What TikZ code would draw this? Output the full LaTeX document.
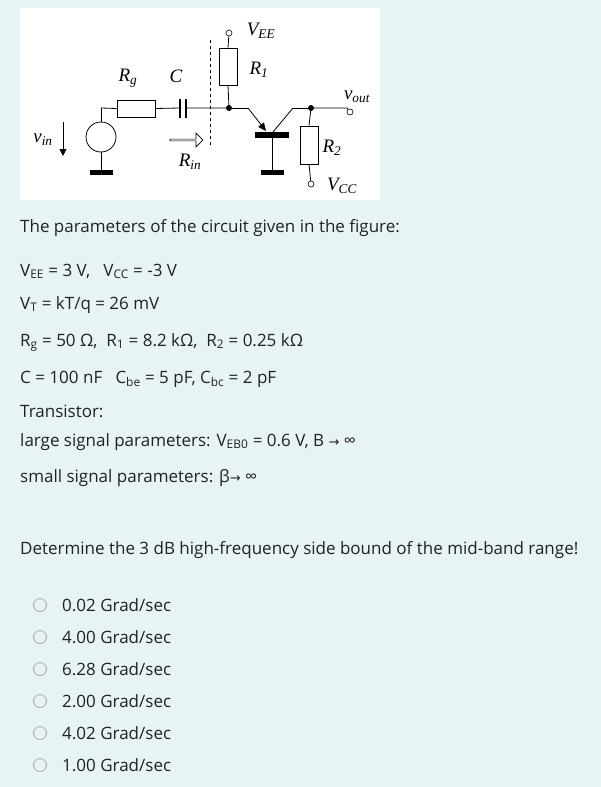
\documentclass[tikz,border=0pt]{standalone}
\usepackage{fontspec}
\setmainfont{Open Sans}
\newfontfamily\tms{Liberation Serif}
\newfontfamily\dvs{DejaVu Sans}
\usetikzlibrary{arrows.meta,shapes.arrows}
\definecolor{bgc}{HTML}{E7F3F5}
\definecolor{txt}{HTML}{222222}
\begin{document}
\begin{tikzpicture}[x=1pt,y=-1pt,
  wire/.style={line width=0.8pt},
  res/.style={draw,line width=0.6pt,fill=white},
  dot/.style={circle,fill=black,inner sep=0pt,minimum size=6pt},
  term/.style={circle,draw,fill=white,inner sep=0pt,minimum size=6pt,line width=0.6pt},
  lbl/.style={font=\tms\itshape\fontsize{19}{19}\selectfont,inner sep=0pt},
  par/.style={anchor=base west,inner sep=0pt,text=txt,font=\fontsize{17}{19}\selectfont},
  radio/.style={circle,draw=gray!70,line width=0.8pt,minimum size=13pt,inner sep=0pt}]
\fill[bgc] (0,0) rectangle (601,787);
\useasboundingbox (0,0) rectangle (601,787);
\fill[white] (20,8) rectangle (380,200);
% source
\node[circle,draw,line width=0.8pt,minimum size=30pt,inner sep=0pt] (src) at (101,137) {};
\coordinate (s1) at (101,108);
\coordinate (gs) at (101,172);
\draw[wire] (src.north) -- (s1);
\draw[wire] (src.south) -- (gs);
\fill (90,170) rectangle (113,175);
\node[res,minimum width=38pt,minimum height=17pt] (rg) at (136,108.5) {};
\draw[wire] (s1) -- (rg.west);
\coordinate (c1) at (180,108); \coordinate (c2) at (186,108);
\draw[line width=2.2pt] (180,99) -- (180,118) (186,99) -- (186,118);
\draw[wire] (rg.east) -- (c1) (c2) -- (229,108);
\node[dot] (nb) at (229,108) {};
\draw[dashed,line width=0.5pt] (210,40) -- (210,145);
% R1
\node[term] (vee) at (229,33) {};
\node[res,minimum width=18pt,minimum height=37pt] (r1) at (228,66.5) {};
\draw[wire] (vee) -- (r1.north) (r1.south) -- (nb);
% transistor
\coordinate (e1) at (248,108);
\coordinate (e2) at (266,131);
\draw[wire] (nb) -- (e1);
\draw[wire,-{Triangle[length=8pt,width=7pt]}] (e1) -- (e2);
\fill (255,132) rectangle (289,137.5);
\coordinate (c3) at (293,108);
\draw[wire] (273,132) -- (c3);
\node[dot] (no) at (311,108) {};
\draw[wire] (c3) -- (no);
\node[term] (vout) at (350,112) {};
\draw[wire] (no) -- (347,108) -- (vout);
\coordinate (bg) at (272,170);
\draw[wire] (272,137) -- (bg);
\fill (261,170) rectangle (284,175);
\node[res,minimum width=18pt,minimum height=38pt] (r2) at (309,145) {};
\node[term] (vcc) at (311,184) {};
\draw[wire] (no) -- (r2.north) (r2.south) -- (vcc);
% arrows
\draw[wire,-{Triangle[length=7pt,width=7pt]}] (63,122) -- (63,156);
\node[single arrow,draw,line width=0.7pt,fill=white,minimum height=33pt,minimum width=14pt,single arrow head extend=2.5pt,inner sep=0pt] at (186,140) {};
% labels
\node[lbl] at (128,78) {R\textsubscript{g}};
\node[lbl] at (176,76) {C};
\node[lbl] at (259,70) {R\textsubscript{1}};
\node[lbl] at (332,148) {R\textsubscript{2}};
\node[lbl] at (357,97) {v\textsubscript{out}};
\node[lbl] at (261,31) {V\textsubscript{EE}};
\node[lbl] at (342,186) {V\textsubscript{CC}};
\node[lbl] at (43,140) {v\textsubscript{in}};
\node[lbl] at (190,162) {R\textsubscript{in}};
% text
\node[par] (t0) at (20,232) {The parameters of the circuit given in the figure:};
\node[par] (t1) at (20,276) {V\textsubscript{EE} = 3 V,\ \ \ V\textsubscript{CC} = -3 V};
\node[par] (t2) at (20,309) {V\textsubscript{T} = kT/q = 26 mV};
\node[par] (t3) at (20,346) {R\textsubscript{g} = 50 Ω,\ \ R\textsubscript{1} = 8.2 kΩ,\ \ R\textsubscript{2} = 0.25 kΩ};
\node[par] (t4) at (20,383) {C = 100 nF\ \ \ C\textsubscript{be} = 5 pF,\ C\textsubscript{bc} = 2 pF};
\node[par] (t5) at (20,417) {Transistor:};
\node[par] (t6) at (20,446) {large signal parameters: V\textsubscript{EB0} = 0.6 V, B {\dvs\fontsize{13}{13}\selectfont→} ∞};
\node[par] (t7) at (20,482) {small signal parameters: β{\dvs\fontsize{13}{13}\selectfont→} ∞};
\node[par] (t8) at (20,554) {Determine the 3 dB high-frequency side bound of the mid-band range!};
\foreach \y/\s [count=\i] in {605/0.02,637/4.00,669/6.28,701/2.00,733/4.02,765/1.00}{
  \node[radio] (r\i) at (40,\y) {};
  \node[par,anchor=west] (o\i) at (62,\y) {\s\ Grad/sec};
}
\end{tikzpicture}
\end{document}
